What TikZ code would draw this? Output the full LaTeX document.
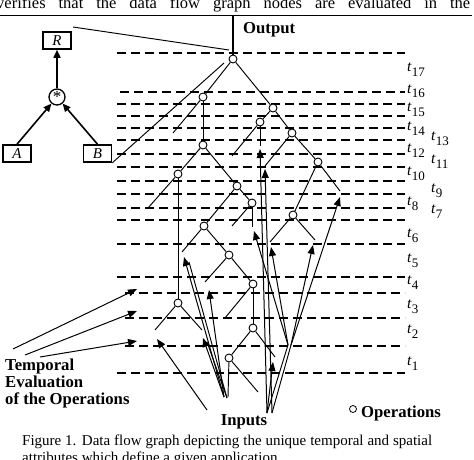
\documentclass[tikz,border=0pt]{standalone}
\usepackage{fontspec}
\setmainfont{Liberation Serif}
\usetikzlibrary{arrows.meta}
\tikzset{
op/.style={draw, circle, fill=white, inner sep=0pt, minimum size=8pt, line width=0.9pt},
opbox/.style={draw, line width=1.6pt, minimum width=28pt, minimum height=17pt,
	inner sep=0pt, font=\fontsize{15}{15}\selectfont\itshape},
tline/.style={line width=1.3pt, dash pattern=on 9pt off 5pt},
link/.style={line width=0.95pt},
feed/.style={line width=1pt, -{Triangle[length=9pt,width=7pt]}},
farr/.style={line width=1.6pt, -{Triangle[length=8pt,width=7pt]}},
lbl/.style={font=\fontsize{16.7}{16.7}\selectfont\bfseries, inner sep=0pt},
tlab/.style={anchor=base west, inner sep=0pt, font=\fontsize{15.5}{15.5}\selectfont}
}
\newcommand{\tsub}[1]{\textit{t}\raisebox{-5pt}{\fontsize{13}{13}\selectfont #1}}

\begin{document}
\begin{tikzpicture}[x=1pt, y=-1pt]
	\useasboundingbox (0,0) rectangle (474,460);
	\node[anchor=base west, inner sep=0pt] (txt) at (-4,9) {\fontsize{16.5}{16.5}\selectfont
		\makebox[474pt][s]{verifies that the data flow graph nodes are evaluated in the}};
	\draw[line width=1pt] (0,16) -- (472,16);

	% time steps
	\foreach \y/\x in {53/117, 92/120, 104/117, 116/117, 128/117, 140/117, 154/117,
		167/117, 181/117, 194/117, 208/117, 220/117, 244/117, 277/117, 293/125,
		318/125, 346/125, 373/117}
		\draw[tline] (\x,\y) -- (405,\y);
	\foreach \n/\x/\y in {17/407/72, 16/407/93, 15/407/111, 14/407/130, 13/431/140,
		12/407/152, 11/431/163, 10/407/175, 9/431/192, 8/407/205, 7/431/213,
		6/407/237, 5/407/262, 4/407/284, 3/407/308, 2/407/333, 1/407/365}
		\node[tlab] (t\n) at (\x,\y) {\tsub{\n}};

	% small graph
	\node[opbox] (R) at (57,40.5) {R};
	\node[draw, circle, line width=1.3pt, minimum size=16pt, inner sep=0pt,
		font=\fontsize{17}{17}\selectfont] (star) at (57,97) {\raisebox{-3pt}{*}};
	\node[opbox] (A) at (17,153.5) {A};
	\node[opbox] (B) at (97.5,153.5) {B};
	\draw[farr] (A.north) -- (star);
	\draw[farr] (B.north) -- (star);
	\draw[farr] (star) -- (R.south);
	\coordinate (rmap) at (73,27);
	\coordinate (tmap) at (229,50);
	\coordinate (bmap) at (224,63);
	\draw[link] (rmap) -- (tmap);
	\draw[link] (B.south east) -- (bmap);

	% operations
	\foreach \nm/\x/\y in {o1/233/59, o2/203/97, o3/273/108, o4/260/122, o5/292/133,
		o6/203/145, o7/318/162, o8/178/174, o9/237/186, o10/252/203, o11/293/215,
		o12/204/226, o13/229/255, o14/253/284, o15/178/303, o16/253/328, o17/229/358}
		\node[op] (\nm) at (\x,\y) {};
	\foreach \nm/\x/\y in {u1/173/133, u2/232/156, u3/260/146, u4/265/166, u5/340/191,
		u6/148/208, u7/232/226, u8/252/227, u9/270/242, u10/315/240, u11/182/252,
		u12/205/282, u13/225/318, u14/155/330, u15/202/330, u16/275/357,
		u17/258/392, u18/228/397}
		\coordinate (\nm) at (\x,\y);
	\coordinate (out) at (233,16);
	\draw[line width=1.4pt] (o1) -- (out);
	\foreach \s/\t in {o1/o2, o1/o3, o2/u1, o2/o6, o3/o4, o3/o5, o4/u2, o4/u3,
		o5/u4, o5/o7, o6/o8, o6/o9, o7/o11, o7/u5, o8/u6, o8/o15, o9/o12, o9/o10,
		o10/u7, o10/u8, o11/u9, o11/u10, o12/u11, o12/o13, o13/u12, o13/o14,
		o14/u13, o14/o16, o15/u14, o15/u15, o16/o17, o16/u16, o17/u17, o17/u18}
		\draw[link] (\s) -- (\t);

	% inputs
	\foreach \nm/\x/\y in {inL/224/397, inL2/227/398, inS/207/410, inR1/267/413,
		inR2/272/413, jn/288/345, jn2/291/345, w3/260/149, w4/265/169, w5/340/197,
		w8/254/231, w9/271/247, w10/313/245, w11/184/257, w12/209/290, w14/157/339,
		w15/203/338, w16/273/362, d11/189/262, d15/207/342}
		\coordinate (\nm) at (\x,\y);
	\draw[link] (inR1) -- (jn);
	\draw[link] (inR2) -- (jn2);
	\draw[link] (inL2) -- (d11);
	\draw[link] (inL2) -- (d15);
	\foreach \s/\t in {inL/w11, inL/w12, inL/w15, inS/w14, jn/w8, jn/w9,
		jn2/w10, jn2/w5, inR1/w3, inR2/w4, inR1/w16}
		\draw[feed] (\s) -- (\t);

	% temporal evaluation
	\foreach \nm/\x/\y in {te1/13/349, te2/25/355, te3/40/357, tt1/137/289,
		tt2/137/311, tt3/137/341}
		\coordinate (\nm) at (\x,\y);
	\foreach \s/\t in {te1/tt1, te2/tt2, te3/tt3}
		\draw[feed] (\s) -- (\t);

	\node[lbl, anchor=base west] (output) at (243,34) {Output};
	\node[lbl, anchor=north west, align=left] (temporal) at (5,359)
		{Temporal\\Evaluation\\of the Operations};
	\node[lbl, anchor=base] (inputs) at (244,425) {Inputs};
	\node[op, minimum size=7pt, line width=0.8pt] (legend) at (353,409) {};
	\node[lbl, anchor=base west] (ops) at (361,417) {Operations};

	\node[anchor=base west, inner sep=0pt] (cap1) at (22,445) {\fontsize{15}{15}\selectfont
		\makebox[410pt][s]{Figure 1. Data flow graph depicting the unique temporal and spatial}};
	\node[anchor=base west, inner sep=0pt] (cap2) at (22,462) {\fontsize{15}{15}\selectfont
		attributes which define a given application};
\end{tikzpicture}
\end{document}
